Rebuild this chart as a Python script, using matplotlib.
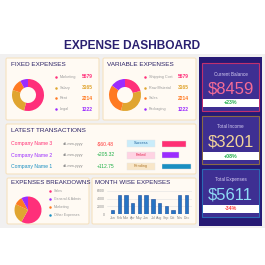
import matplotlib
matplotlib.use('Agg')
import matplotlib.pyplot as plt
from matplotlib.patches import FancyBboxPatch, Rectangle

plt.rcParams['font.family'] = ['Liberation Sans', 'DejaVu Sans']

# ── Dati ────────────────────────────────────────────────────────────────
fixed_labels = ['Marketing', 'Salary', 'Rent', 'Legal']
fixed_values = [5679, 3165, 2214, 1222]
fixed_share = [54, 26, 12, 8]

var_labels = ['Shipping Cost', 'Raw Material', 'Sales', 'Packaging']
var_values = [5679, 3165, 2214, 1222]
var_share = [21, 33, 31, 15]

slice_colors = ['#ff2f7a', '#e0a530', '#ff7a22', '#9b2cff']

tx_company = ['Company Name 3', 'Company Name 2', 'Company Name 1']
tx_date = ['dd-mm-yyyy', 'dd-mm-yyyy', 'dd-mm-yyyy']
tx_amount = ['-$60.48', '+205.32', '+112.75']
tx_status = ['Success', 'Failed', 'Pending']
tx_bar = [72, 52, 88]
tx_colors = ['#ff2f74', '#9b2cff', '#1a8fc2']

bd_labels = ['Sales', 'General & Admin', 'Marketing', 'Other Expenses']
bd_legend_colors = ['#ff2f7a', '#9b2cff', '#ff7a22', '#1a8fc2']
bd_share = [58, 24, 10, 8]
bd_pie_colors = ['#ff2f7a', '#e0a530', '#ff7a22', '#9b2cff']

months = ['Jan', 'Feb', 'Mar', 'Apr', 'May', 'Jun', 'Jul', 'Aug', 'Sep', 'Oct', 'Nov', 'Dec']
month_values = [1000, 5000, 5000, 3000, 5000, 5000, 4000, 3000, 2000, 1000, 5000, 5000]

card_titles = ['Current Balance', 'Total Income', 'Total Expenses']
card_amounts = ['$8459', '$3201', '$5611']
card_changes = ['+23%', '+08%', '-34%']

W = H = 265
fig = plt.figure(figsize=(2.65, 2.65), dpi=100)
fig.patch.set_facecolor('white')

bg = fig.add_axes([0, 0, 1, 1])
bg.set_xlim(0, W)
bg.set_ylim(H, 0)
bg.axis('off')


def sub_ax(x, y, w, h):
    return fig.add_axes([x / W, 1 - (y + h) / H, w / W, h / H])


def panel(x, y, w, h, fc='#fffaf3', ec='#f6e2c0', lw=0.8):
    bg.add_patch(FancyBboxPatch((x, y), w, h, boxstyle='round,pad=0,rounding_size=1.5',
                                fc=fc, ec=ec, lw=lw))


def pie_at(cx, cy, r, share, colors, width=None):
    a = sub_ax(cx - r, cy - r, 2 * r, 2 * r)
    wp = dict(edgecolor='none')
    if width:
        wp['width'] = width
    a.pie(share, colors=colors, startangle=90, counterclock=False, radius=1,
          wedgeprops=wp)
    a.set_xlim(-1, 1)
    a.set_ylim(-1, 1)
    a.set_aspect('equal')
    return a


NAVY = '#2b2266'

# sfondo dashboard
bg.add_patch(Rectangle((0, 54), W, 174, fc='#f1f0f0', ec='none'))
bg.text(132.5, 46, 'EXPENSE DASHBOARD', ha='center', va='center',
        fontsize=8.6, fontweight='bold', color='#2a2070')

# ── Pannelli donut ──────────────────────────────────────────────────────
panel(6, 58, 93, 62)
panel(103, 58, 93, 62)
bg.text(11, 65, 'FIXED EXPENSES', fontsize=4.6, color=NAVY, va='center')
bg.text(107, 65, 'VARIABLE EXPENSES', fontsize=4.6, color=NAVY, va='center')

for cx, share, labels, values, dx, vx in [(28, fixed_share, fixed_labels, fixed_values, 56, 82),
                                          (125, var_share, var_labels, var_values, 145, 178)]:
    pie_at(cx, 95, 16, share, slice_colors, width=0.5)
    for i, (lab, val) in enumerate(zip(labels, values)):
        yy = 77 + i * 10.7
        bg.plot(dx, yy, 'o', ms=1.8, color=slice_colors[i], mec='none')
        bg.text(dx + 4, yy, lab, fontsize=2.7, color='#999999', va='center')
        bg.text(vx, yy, str(val), fontsize=3.6, fontweight='bold',
                color=slice_colors[i], va='center')

# ── Ultime transazioni ──────────────────────────────────────────────────
panel(6, 124, 190, 50)
bg.text(11, 130, 'LATEST TRANSACTIONS', fontsize=4.6, color=NAVY, va='center')
badge_fc = ['#c9ecfa', '#ffd3e3', '#f8e6c8']
badge_tc = ['#1b5f9a', '#e0204a', '#b07a30']
amount_c = ['#ff3838', '#22b04a', '#22b04a']
for i in range(3):
    yy = 143.5 + i * 11.5
    bg.text(11, yy, tx_company[i], fontsize=3.7, color=tx_colors[i], va='center')
    bg.text(63, yy, tx_date[i], fontsize=2.7, color='#888888', va='center')
    bg.text(97, yy, tx_amount[i], fontsize=3.6, color=amount_c[i], va='center')
    bg.add_patch(Rectangle((127, yy - 3.5), 28, 7, fc=badge_fc[i], ec='#e6e6e6', lw=0.3))
    bg.text(141, yy, tx_status[i], fontsize=2.8, color=badge_tc[i], ha='center', va='center')

tb = sub_ax(162, 138, 33, 34)
tb.barh(range(3), tx_bar, height=0.5, color=tx_colors, edgecolor='#dddddd', lw=0.3)
tb.set_xlim(0, 100)
tb.set_ylim(2.5, -0.5)
tb.axis('off')

# ── Ripartizione spese ──────────────────────────────────────────────────
panel(7, 178, 82, 46)
bg.text(11, 183, 'EXPENSES BREAKDOWNS', fontsize=4.4, color=NAVY, va='center')
pie_at(28, 210, 13.5, bd_share, bd_pie_colors)
for i, lab in enumerate(bd_labels):
    yy = 191 + i * 8
    bg.plot(50, yy, 'o', ms=1.8, color=bd_legend_colors[i], mec='none')
    bg.text(54, yy, lab, fontsize=2.5, color='#999999', va='center')

# ── Spese mensili ───────────────────────────────────────────────────────
panel(92, 178, 104, 46)
bg.text(95, 183, 'MONTH WISE EXPENSES', fontsize=4.4, color=NAVY, va='center')
ma = sub_ax(107, 191, 85, 23)
ma.bar(months, month_values, width=0.52, color='#2674c4', edgecolor='#1a4a96', lw=0.4)
ma.set_ylim(0, 6000)
ma.set_yticks([0, 2000, 4000, 6000])
ma.tick_params(labelsize=2.5, length=0, pad=1.5, colors='#888888')
ma.grid(axis='y', color='#e2e2e2', lw=0.4)
ma.set_axisbelow(True)
ma.set_facecolor('none')
for s in ma.spines.values():
    s.set_visible(False)

# ── Pannello scuro a destra ─────────────────────────────────────────────
bg.add_patch(Rectangle((199, 57), 63, 169, fc='#261a75', ec='none'))
card_y = [63, 116, 169]
card_ec = ['#c0306e', '#8a6a44', '#2b6ab4']
amount_cols = ['#f56c96', '#f2d49a', '#8edcf5']
change_cols = ['#1fae4a', '#1fae4a', '#ff3b3b']
for i in range(3):
    y0 = card_y[i]
    bg.add_patch(Rectangle((202, y0), 57, 48, fc='#3e2f92', ec=card_ec[i], lw=0.8))
    bg.text(230.5, y0 + 11, card_titles[i], fontsize=3.3, color='#d5cdf2',
            ha='center', va='center')
    bg.text(230.5, y0 + 26, card_amounts[i], fontsize=12, color=amount_cols[i],
            ha='center', va='center')
    bg.add_patch(Rectangle((202.5, y0 + 36), 56, 8, fc='white', ec='none'))
    bg.text(230.5, y0 + 40, card_changes[i], fontsize=3.8, color=change_cols[i],
            ha='center', va='center', fontweight='bold')

fig.savefig('out.png', dpi=100)
